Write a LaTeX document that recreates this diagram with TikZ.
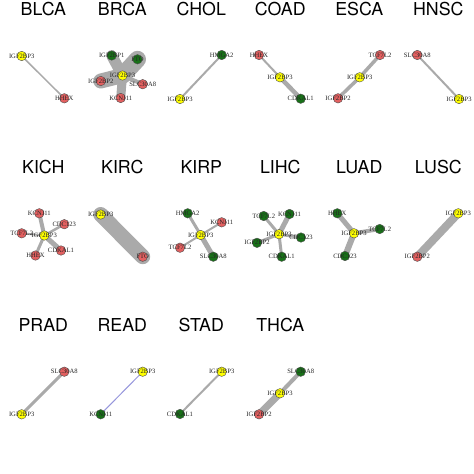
\documentclass[tikz,border=0pt]{standalone}
\usepackage{fontspec}
\setmainfont{Liberation Serif}
\newfontfamily\titlefont{TeX Gyre Heros}
\usetikzlibrary{backgrounds}

\definecolor{edgegray}{RGB}{170,170,170}
\definecolor{edgeblue}{RGB}{150,150,220}
\definecolor{genered}{RGB}{226,96,96}
\definecolor{genegreen}{RGB}{24,112,24}
\definecolor{geneyellow}{RGB}{255,255,0}

\begin{document}
\begin{tikzpicture}[x=1pt,y=-1pt,
  title/.style={font=\titlefont\fontsize{17.8}{20}\selectfont, anchor=base},
  gene/.style={circle, draw=black!70, line width=0.4pt, minimum size=9.5pt,
    inner sep=0pt, font=\fontsize{6.6}{7}\selectfont, text=black!85},
  gred/.style={gene, fill=genered},
  ggreen/.style={gene, fill=genegreen},
  gyellow/.style={gene, fill=geneyellow},
  link/.style={color=edgegray, line cap=round}]

\useasboundingbox (0,0) rectangle (474,474);

% --- Titoli ---
\node[title] (t-blca) at (43.3,15) {BLCA};
\node[title] (t-brca) at (122.3,15) {BRCA};
\node[title] (t-chol) at (201.3,15) {CHOL};
\node[title] (t-coad) at (280.3,15) {COAD};
\node[title] (t-esca) at (359.3,15) {ESCA};
\node[title] (t-hnsc) at (438.3,15) {HNSC};
\node[title] (t-kich) at (43.3,173.3) {KICH};
\node[title] (t-kirc) at (122.3,173.3) {KIRC};
\node[title] (t-kirp) at (201.3,173.3) {KIRP};
\node[title] (t-lihc) at (280.3,173.3) {LIHC};
\node[title] (t-luad) at (359.3,173.3) {LUAD};
\node[title] (t-lusc) at (438.3,173.3) {LUSC};
\node[title] (t-prad) at (43.3,331) {PRAD};
\node[title] (t-read) at (122.3,331) {READ};
\node[title] (t-stad) at (201.3,331) {STAD};
\node[title] (t-thca) at (280.3,331) {THCA};

% --- Riga 1 ---
\node[gyellow] (blca-igf2bp3) at (21.7,56) {\makebox[0pt]{IGF2BP3}};
\node[gred] (blca-hhex) at (64.3,98.3) {\makebox[0pt]{HHEX}};

\node[ggreen] (brca-igf2bp1) at (111.7,55.5) {\makebox[0pt]{IGF2BP1}};
\node[ggreen] (brca-fto) at (137.5,59.3) {\makebox[0pt]{FTO}};
\node[gred] (brca-igf2bp2) at (100.8,81) {\makebox[0pt]{IGF2BP2}};
\node[gred] (brca-slc30a8) at (142.7,84.2) {\makebox[0pt]{SLC30A8}};
\node[gred] (brca-kcnj11) at (120.7,98) {\makebox[0pt]{KCNJ11}};
\node[gyellow] (brca-igf2bp3) at (122.5,75.5) {\makebox[0pt]{IGF2BP3}};

\node[ggreen] (chol-hmga2) at (221.7,55) {\makebox[0pt]{HMGA2}};
\node[gyellow] (chol-igf2bp3) at (180,99) {\makebox[0pt]{IGF2BP3}};

\node[gred] (coad-hhex) at (259,55) {\makebox[0pt]{HHEX}};
\node[gyellow] (coad-igf2bp3) at (280,77.3) {\makebox[0pt]{IGF2BP3}};
\node[ggreen] (coad-cdkal1) at (300.7,98.7) {\makebox[0pt]{CDKAL1}};

\node[gred] (esca-tcf7l2) at (380,55) {\makebox[0pt]{TCF7L2}};
\node[gyellow] (esca-igf2bp3) at (359.7,77.3) {\makebox[0pt]{IGF2BP3}};
\node[gred] (esca-igf2bp2) at (338,98.3) {\makebox[0pt]{IGF2BP2}};

\node[gred] (hnsc-slc30a8) at (417.3,55) {\makebox[0pt]{SLC30A8}};
\node[gyellow] (hnsc-igf2bp3) at (459,99) {\makebox[0pt]{IGF2BP3}};

% --- Riga 2 ---
\node[gred] (kich-kcnj11) at (39.3,213.3) {\makebox[0pt]{KCNJ11}};
\node[gred] (kich-cdc123) at (64.3,224.2) {\makebox[0pt]{CDC123}};
\node[gred] (kich-hhex) at (35.5,255.5) {\makebox[0pt]{HHEX}};
\node[gred] (kich-cdkal1) at (61,250.5) {\makebox[0pt]{CDKAL1}};
\node[gyellow] (kich-igf2bp3) at (44.3,235.5) {\makebox[0pt]{IGF2BP3}};
\node[gred] (kich-tcf7l2) at (21.7,233.3) {\makebox[0pt]{TCF7L2}};

\node[gyellow] (kirc-igf2bp3) at (100.7,214.5) {\makebox[0pt]{IGF2BP3}};
\node[gred] (kirc-fto) at (142.7,256.7) {\makebox[0pt]{FTO}};

\node[ggreen] (kirp-hmga2) at (187.7,213.3) {\makebox[0pt]{HMGA2}};
\node[gred] (kirp-kcnj11) at (221.7,222.3) {\makebox[0pt]{KCNJ11}};
\node[gyellow] (kirp-igf2bp3) at (200.7,235) {\makebox[0pt]{IGF2BP3}};
\node[gred] (kirp-tcf7l2) at (180,247.7) {\makebox[0pt]{TCF7L2}};
\node[ggreen] (kirp-slc30a8) at (213.3,256.7) {\makebox[0pt]{SLC30A8}};

\node[ggreen] (lihc-tcf7l2) at (263.7,216) {\makebox[0pt]{TCF7L2}};
\node[ggreen] (lihc-kcnj11) at (289.5,214) {\makebox[0pt]{KCNJ11}};
\node[ggreen] (lihc-cdc123) at (301,237.5) {\makebox[0pt]{CDC123}};
\node[ggreen] (lihc-igf2bp2) at (257,242.8) {\makebox[0pt]{IGF2BP2}};
\node[ggreen] (lihc-cdkal1) at (281.7,256.7) {\makebox[0pt]{CDKAL1}};
\node[gyellow] (lihc-igf2bp3) at (279,234.2) {\makebox[0pt]{IGF2BP3}};

\node[ggreen] (luad-hhex) at (337.3,213.3) {\makebox[0pt]{HHEX}};
\node[ggreen] (luad-tcf7l2) at (379.7,229) {\makebox[0pt]{TCF7L2}};
\node[ggreen] (luad-cdc123) at (345,256) {\makebox[0pt]{CDC123}};
\node[gyellow] (luad-igf2bp3) at (354,233.3) {\makebox[0pt]{IGF2BP3}};

\node[gyellow] (lusc-igf2bp3) at (458.3,213.3) {\makebox[0pt]{IGF2BP3}};
\node[gred] (lusc-igf2bp2) at (417.3,256.7) {\makebox[0pt]{IGF2BP2}};

% --- Riga 3 ---
\node[gred] (prad-slc30a8) at (64.3,371.7) {\makebox[0pt]{SLC30A8}};
\node[gyellow] (prad-igf2bp3) at (21.7,414.3) {\makebox[0pt]{IGF2BP3}};

\node[gyellow] (read-igf2bp3) at (142.7,371.7) {\makebox[0pt]{IGF2BP3}};
\node[ggreen] (read-kcnj11) at (100.7,414.3) {\makebox[0pt]{KCNJ11}};

\node[gyellow] (stad-igf2bp3) at (221.7,371.7) {\makebox[0pt]{IGF2BP3}};
\node[ggreen] (stad-cdkal1) at (180,414) {\makebox[0pt]{CDKAL1}};

\node[ggreen] (thca-slc30a8) at (300.7,371.7) {\makebox[0pt]{SLC30A8}};
\node[gyellow] (thca-igf2bp3) at (280,393.3) {\makebox[0pt]{IGF2BP3}};
\node[gred] (thca-igf2bp2) at (259,414.3) {\makebox[0pt]{IGF2BP2}};

% --- Archi (sotto i nodi) ---
\begin{scope}[on background layer]
\fill[white] (0,0) rectangle (474,474);

\draw[link, line width=1.5] (blca-igf2bp3.center) -- (blca-hhex.center);

\draw[link, line width=11] (brca-igf2bp3.center) -- (brca-igf2bp1.center);
\draw[link, line width=17] (brca-igf2bp3.center) -- (brca-fto.center);
\draw[link, line width=15] (brca-igf2bp3.center) -- (brca-igf2bp2.center);
\draw[link, line width=9] (brca-igf2bp3.center) -- (brca-kcnj11.center);
\draw[link, line width=4] (brca-igf2bp3.center) -- (brca-slc30a8.center);

\draw[link, line width=2] (chol-igf2bp3.center) -- (chol-hmga2.center);

\draw[link, line width=2] (coad-igf2bp3.center) -- (coad-hhex.center);
\draw[link, line width=4.5] (coad-igf2bp3.center) -- (coad-cdkal1.center);

\draw[link, line width=3.5] (esca-igf2bp3.center) -- (esca-tcf7l2.center);
\draw[link, line width=3.5] (esca-igf2bp3.center) -- (esca-igf2bp2.center);

\draw[link, line width=2] (hnsc-igf2bp3.center) -- (hnsc-slc30a8.center);

\draw[link, line width=4] (kich-igf2bp3.center) -- (kich-kcnj11.center);
\draw[link, line width=2.5] (kich-igf2bp3.center) -- (kich-cdc123.center);
\draw[link, line width=2] (kich-igf2bp3.center) -- (kich-tcf7l2.center);
\draw[link, line width=3] (kich-igf2bp3.center) -- (kich-hhex.center);
\draw[link, line width=5] (kich-igf2bp3.center) -- (kich-cdkal1.center);

\draw[link, line width=15] (kirc-igf2bp3.center) -- (kirc-fto.center);

\draw[link, line width=3] (kirp-igf2bp3.center) -- (kirp-hmga2.center);
\draw[link, line width=2] (kirp-igf2bp3.center) -- (kirp-kcnj11.center);
\draw[link, line width=2] (kirp-igf2bp3.center) -- (kirp-tcf7l2.center);
\draw[link, line width=5] (kirp-igf2bp3.center) -- (kirp-slc30a8.center);

\draw[link, line width=3] (lihc-igf2bp3.center) -- (lihc-tcf7l2.center);
\draw[link, line width=5] (lihc-igf2bp3.center) -- (lihc-kcnj11.center);
\draw[link, line width=3] (lihc-igf2bp3.center) -- (lihc-cdc123.center);
\draw[link, line width=3] (lihc-igf2bp3.center) -- (lihc-igf2bp2.center);
\draw[link, line width=3] (lihc-igf2bp3.center) -- (lihc-cdkal1.center);

\draw[link, line width=5] (luad-igf2bp3.center) -- (luad-hhex.center);
\draw[link, line width=4] (luad-igf2bp3.center) -- (luad-tcf7l2.center);
\draw[link, line width=6] (luad-igf2bp3.center) -- (luad-cdc123.center);

\draw[link, line width=8] (lusc-igf2bp3.center) -- (lusc-igf2bp2.center);

\draw[link, line width=3] (prad-igf2bp3.center) -- (prad-slc30a8.center);
\draw[link, color=edgeblue, line width=1] (read-igf2bp3.center) -- (read-kcnj11.center);
\draw[link, line width=2] (stad-igf2bp3.center) -- (stad-cdkal1.center);
\draw[link, line width=4] (thca-igf2bp3.center) -- (thca-slc30a8.center);
\draw[link, line width=7] (thca-igf2bp3.center) -- (thca-igf2bp2.center);
\end{scope}

\end{tikzpicture}
\end{document}
